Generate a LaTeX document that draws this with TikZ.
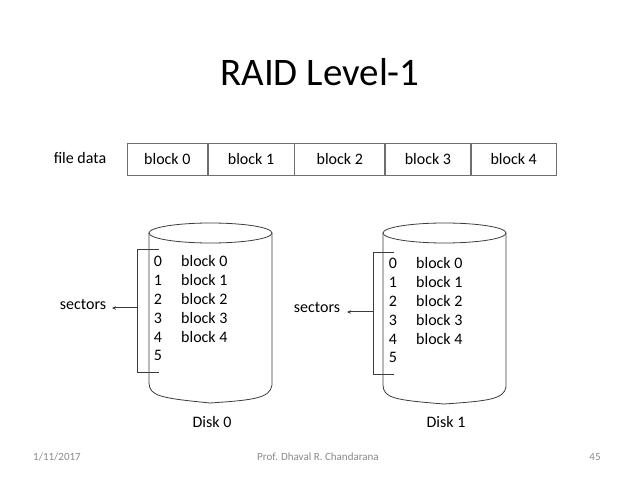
\documentclass[tikz,border=0pt]{standalone}
\usepackage{fontspec}
\setmainfont{Carlito}
\usetikzlibrary{arrows.meta}
\definecolor{linegray}{RGB}{60,60,60}
\definecolor{boxgray}{RGB}{110,110,110}
\definecolor{footgray}{RGB}{137,137,137}
\tikzset{
  body/.style={inner sep=0pt, font=\fontsize{16}{19}\selectfont, text=black},
  numtxt/.style={body, anchor=center},
  blktxt/.style={body, anchor=west},
  foot/.style={inner sep=0pt, font=\fontsize{11}{13}\selectfont, text=footgray},
  cyl/.style={draw=linegray, line width=0.8pt},
  brack/.style={draw=linegray, line width=0.8pt},
  ptr/.style={draw=linegray, line width=1pt, -{Stealth[length=4pt,width=3.5pt]}},
  cell/.style={draw=boxgray, line width=0.7pt, minimum height=32pt, inner sep=0pt, font=\fontsize{16}{19}\selectfont, anchor=west}
}
\begin{document}
\begin{tikzpicture}[x=1pt,y=-1pt]
\useasboundingbox (0,0) rectangle (638,478);
% title
\node[inner sep=0pt, font=\fontsize{39}{44}\selectfont] (title) at (320,72) {RAID Level-1};
% file data row
\node[body] (fd) at (80,158) {file data};
\node[cell, minimum width=80pt] (c0) at (127,159) {block 0};
\node[cell, minimum width=86pt] (c1) at (c0.east) {block 1};
\node[cell, minimum width=90pt] (c2) at (c1.east) {block 2};
\node[cell, minimum width=85pt] (c3) at (c2.east) {block 3};
\node[cell, minimum width=85pt] (c4) at (c3.east) {block 4};
% Disk 0 cylinder
\draw[cyl] (210.5,233) ellipse [x radius=61.5, y radius=10];
\draw[cyl] (149,233) -- (149,383) .. controls (149.5,396) and (160,398) .. (210,403)
      .. controls (255,400) and (270,398) .. (272,385) -- (272,233);
% Disk 1 cylinder
\draw[cyl] (444.5,233) ellipse [x radius=61.5, y radius=10];
\draw[cyl] (383,233) -- (383,385) .. controls (383.5,398) and (394,400) .. (444,404)
      .. controls (489,401) and (504,399) .. (506,387) -- (506,233);
% Disk 0 contents
\foreach \i/\y in {0/261,1/280,2/299,3/318,4/337,5/355}{
  \node[numtxt] (d0n\i) at (158,\y) {\i};
}
\foreach \i/\y in {0/261,1/280,2/299,3/318,4/337}{
  \node[blktxt] (d0b\i) at (181,\y) {block \i};
}
% Disk 1 contents
\foreach \i/\y in {0/263,1/282,2/301,3/320,4/339,5/357}{
  \node[numtxt] (d1n\i) at (393,\y) {\i};
}
\foreach \i/\y in {0/263,1/282,2/301,3/320,4/339}{
  \node[blktxt] (d1b\i) at (416,\y) {block \i};
}
% brackets
\draw[brack] (159,249) -- (137,249) -- (137,372) -- (159,372);
\coordinate (br0) at (137,308);
\draw[brack] (394,252) -- (373,252) -- (373,374) -- (394,374);
\coordinate (br1) at (373,312);
% sectors labels
\node[body] (s0) at (83,305) {sectors};
\node[body] (s1) at (317,308) {sectors};
\coordinate (t0) at (112,308);
\coordinate (t1) at (347,312);
\draw[ptr] (br0) -- (t0);
\draw[ptr] (br1) -- (t1);
% disk labels
\node[body] (disk0) at (212,422) {Disk 0};
\node[body] (disk1) at (446,422) {Disk 1};
% footer
\node[foot] (date) at (57,457) {1/11/2017};
\node[foot] (author) at (318,457) {Prof. Dhaval R. Chandarana};
\node[foot] (page) at (595,457) {45};
\end{tikzpicture}
\end{document}
